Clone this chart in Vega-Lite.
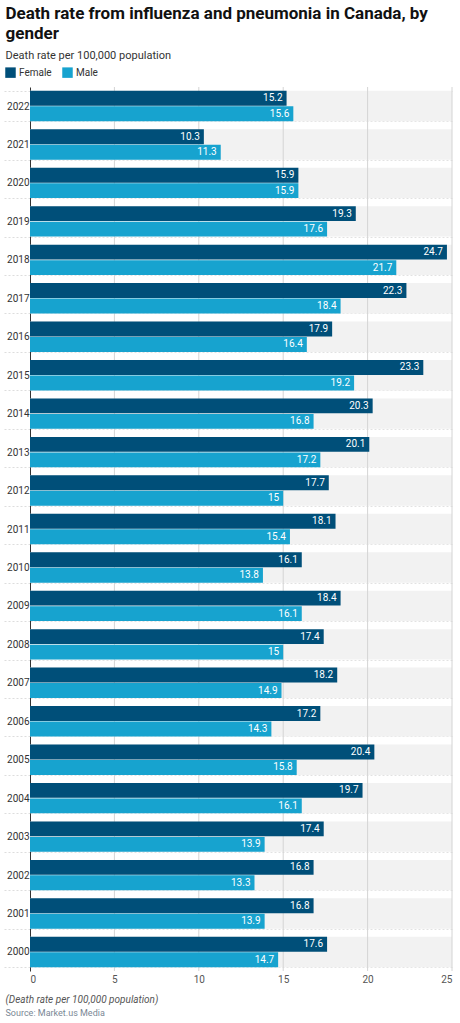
{
  "$schema": "https://vega.github.io/schema/vega-lite/v6.json",
  "background": "white",
  "padding": {"left": 1, "top": 5, "right": 5, "bottom": 5},
  "config": {"font": "Roboto", "view": {"stroke": null}},
  "title": {
    "text": ["Death rate from influenza and pneumonia in Canada, by", "gender"],
    "subtitle": "Death rate per 100,000 population",
    "anchor": "start",
    "frame": "bounds",
    "dx": 4,
    "fontSize": 17,
    "fontWeight": "bold",
    "lineHeight": 20,
    "color": "#111111",
    "subtitleFontSize": 11,
    "subtitleColor": "#333333",
    "subtitlePadding": 7,
    "offset": 5
  },
  "datasets": {
    "rates": [
      {"year": "2022", "gender": "Female", "rate": 15.2}, {"year": "2022", "gender": "Male", "rate": 15.6},
      {"year": "2021", "gender": "Female", "rate": 10.3}, {"year": "2021", "gender": "Male", "rate": 11.3},
      {"year": "2020", "gender": "Female", "rate": 15.9}, {"year": "2020", "gender": "Male", "rate": 15.9},
      {"year": "2019", "gender": "Female", "rate": 19.3}, {"year": "2019", "gender": "Male", "rate": 17.6},
      {"year": "2018", "gender": "Female", "rate": 24.7}, {"year": "2018", "gender": "Male", "rate": 21.7},
      {"year": "2017", "gender": "Female", "rate": 22.3}, {"year": "2017", "gender": "Male", "rate": 18.4},
      {"year": "2016", "gender": "Female", "rate": 17.9}, {"year": "2016", "gender": "Male", "rate": 16.4},
      {"year": "2015", "gender": "Female", "rate": 23.3}, {"year": "2015", "gender": "Male", "rate": 19.2},
      {"year": "2014", "gender": "Female", "rate": 20.3}, {"year": "2014", "gender": "Male", "rate": 16.8},
      {"year": "2013", "gender": "Female", "rate": 20.1}, {"year": "2013", "gender": "Male", "rate": 17.2},
      {"year": "2012", "gender": "Female", "rate": 17.7}, {"year": "2012", "gender": "Male", "rate": 15},
      {"year": "2011", "gender": "Female", "rate": 18.1}, {"year": "2011", "gender": "Male", "rate": 15.4},
      {"year": "2010", "gender": "Female", "rate": 16.1}, {"year": "2010", "gender": "Male", "rate": 13.8},
      {"year": "2009", "gender": "Female", "rate": 18.4}, {"year": "2009", "gender": "Male", "rate": 16.1},
      {"year": "2008", "gender": "Female", "rate": 17.4}, {"year": "2008", "gender": "Male", "rate": 15},
      {"year": "2007", "gender": "Female", "rate": 18.2}, {"year": "2007", "gender": "Male", "rate": 14.9},
      {"year": "2006", "gender": "Female", "rate": 17.2}, {"year": "2006", "gender": "Male", "rate": 14.3},
      {"year": "2005", "gender": "Female", "rate": 20.4}, {"year": "2005", "gender": "Male", "rate": 15.8},
      {"year": "2004", "gender": "Female", "rate": 19.7}, {"year": "2004", "gender": "Male", "rate": 16.1},
      {"year": "2003", "gender": "Female", "rate": 17.4}, {"year": "2003", "gender": "Male", "rate": 13.9},
      {"year": "2002", "gender": "Female", "rate": 16.8}, {"year": "2002", "gender": "Male", "rate": 13.3},
      {"year": "2001", "gender": "Female", "rate": 16.8}, {"year": "2001", "gender": "Male", "rate": 13.9},
      {"year": "2000", "gender": "Female", "rate": 17.6}, {"year": "2000", "gender": "Male", "rate": 14.7}
    ],
    "gridlines": [{"v": 5}, {"v": 10}, {"v": 15}, {"v": 20}, {"v": 25}]
  },
  "vconcat": [
    {
      "width": 422,
      "height": 884,
      "title": {
        "text": "(Death rate per 100,000 population)",
        "subtitle": "Source: Market.us Media",
        "orient": "bottom",
        "anchor": "start",
        "frame": "bounds",
        "dx": 4,
        "fontSize": 10,
        "fontStyle": "italic",
        "fontWeight": "normal",
        "color": "#555555",
        "subtitleFontSize": 9,
        "subtitleColor": "#7a8795",
        "subtitlePadding": 4,
        "offset": 11
      },
      "layer": [
        {
          "data": {"name": "rates"},
          "transform": [{"filter": "datum.gender === 'Female'"}],
          "mark": {"type": "bar", "color": "#f2f2f2"},
          "encoding": {
            "y": {
              "field": "year",
              "type": "ordinal",
              "sort": "descending",
              "scale": {"paddingInner": 0.21, "paddingOuter": 0.1},
              "axis": {
                "title": null,
                "labelFontSize": 10,
                "labelColor": "#333333",
                "domain": true,
                "domainColor": "#333333",
                "ticks": true,
                "tickBand": "extent",
                "tickSize": 28,
                "tickColor": "#dddddd",
                "tickDash": [2, 2],
                "labelPadding": -27,
                "grid": true,
                "gridColor": "#e2e2e2",
                "gridDash": [2, 2]
              }
            },
            "x": {
              "datum": 25,
              "type": "quantitative",
              "scale": {"domain": [0, 25], "nice": false},
              "axis": {
                "title": null,
                "values": [0, 5, 10, 15, 20, 25],
                "labelFontSize": 10,
                "labelColor": "#555555",
                "domain": false,
                "ticks": false,
                "grid": false,
                "labelPadding": 3
              }
            }
          }
        },
        {
          "data": {"name": "gridlines"},
          "mark": {"type": "rule", "color": "#d4d4d4", "strokeWidth": 1},
          "encoding": {"x": {"field": "v", "type": "quantitative"}}
        },
        {
          "data": {"name": "rates"},
          "mark": {"type": "bar"},
          "encoding": {
            "y": {"field": "year", "type": "ordinal", "sort": "descending"},
            "yOffset": {"field": "gender", "type": "nominal", "sort": ["Female", "Male"], "scale": {"paddingInner": 0.04}},
            "x": {"field": "rate", "type": "quantitative"},
            "color": {
              "field": "gender",
              "type": "nominal",
              "scale": {"domain": ["Female", "Male"], "range": ["#004f79", "#17a3cf"]},
              "legend": {
                "title": null,
                "orient": "none",
                "direction": "horizontal",
                "legendX": -25,
                "legendY": -20,
                "padding": 0,
                "symbolType": "square",
                "symbolSize": 110,
                "symbolStrokeWidth": 0,
                "labelFontSize": 10,
                "labelColor": "#333333",
                "columnPadding": 10,
                "labelOffset": 3
              }
            }
          }
        },
        {
          "data": {"name": "rates"},
          "mark": {"type": "text", "align": "right", "baseline": "middle", "dx": -4, "color": "white", "fontSize": 10},
          "encoding": {
            "y": {"field": "year", "type": "ordinal", "sort": "descending"},
            "yOffset": {"field": "gender", "type": "nominal", "sort": ["Female", "Male"]},
            "x": {"field": "rate", "type": "quantitative"},
            "text": {"field": "rate", "type": "quantitative"}
          }
        }
      ]
    }
  ]
}
